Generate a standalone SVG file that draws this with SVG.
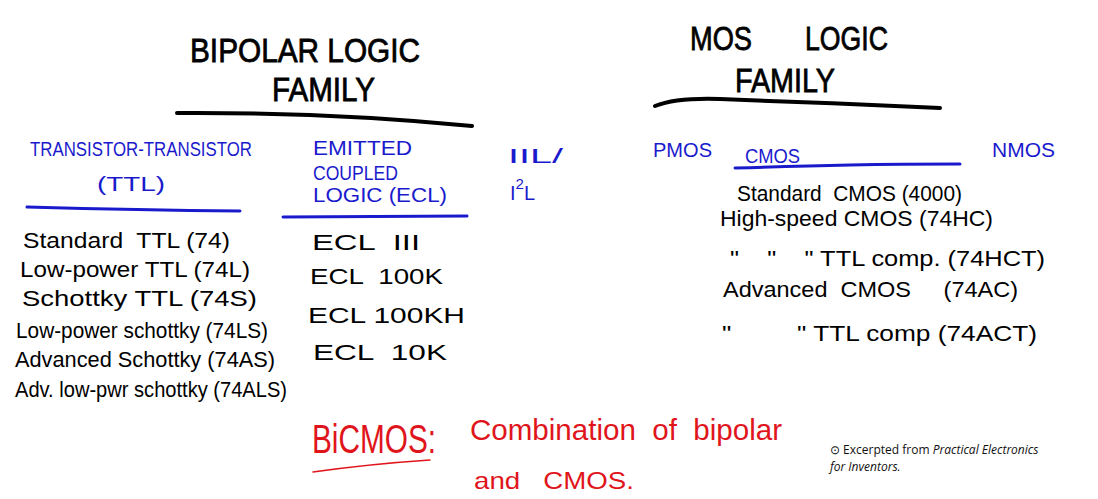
<svg xmlns="http://www.w3.org/2000/svg" width="1098" height="499" viewBox="0 0 1098 499">
<style>
.t{font-family:"Liberation Sans","DejaVu Sans",sans-serif;white-space:pre;}
.title{font-size:34px;fill:#000;stroke:#000;stroke-width:0.8px;}
.blue{fill:#1a1acd;font-size:20px;}
.blk{fill:#000;font-size:22px;}
.red{fill:#e0151b;}
.ln{fill:none;stroke-linecap:round;}
.note{font-family:"Open Sans","Noto Sans",sans-serif;font-size:12px;fill:#111;}
</style>
<rect width="1098" height="499" fill="#fff"/>
<g id="bipolar-title">
<text class="t title" x="190" y="62" textLength="230" lengthAdjust="spacingAndGlyphs">BIPOLAR LOGIC</text>
<text class="t title" x="272" y="101" font-size="32" textLength="103" lengthAdjust="spacingAndGlyphs">FAMILY</text>
</g>
<g id="mos-title">
<text class="t title" x="690" y="50" font-size="32" textLength="62" lengthAdjust="spacingAndGlyphs">MOS</text>
<text class="t title" x="805" y="50" font-size="32" textLength="83" lengthAdjust="spacingAndGlyphs">LOGIC</text>
<text class="t title" x="735" y="92" font-size="30" textLength="100" lengthAdjust="spacingAndGlyphs">FAMILY</text>
</g>
<g id="lines">
<path class="ln" d="M177,113 Q330,112 472,126" stroke="#000" stroke-width="4"/>
<path class="ln" d="M655,106 C670,100 690,98 720,99 S900,106 940,108" stroke="#000" stroke-width="4"/>
<path class="ln" d="M27,207 Q140,210 240,211" stroke="#1a1acd" stroke-width="3"/>
<path class="ln" d="M283,217 L467,216" stroke="#1a1acd" stroke-width="3"/>
<path class="ln" d="M735,168 Q800,166 850,165 T960,164" stroke="#1a1acd" stroke-width="3"/>
<path class="ln" d="M313,472 Q370,464 430,460" stroke="#e0151b" stroke-width="1.5"/>
</g>
<g id="ttl">
<text class="t blue" x="30" y="156" textLength="222" lengthAdjust="spacingAndGlyphs">TRANSISTOR-TRANSISTOR</text>
<text class="t blue" x="97" y="191" font-size="24" textLength="68" lengthAdjust="spacingAndGlyphs">(TTL)</text>
<text class="t blk" x="23" y="248" textLength="207" lengthAdjust="spacingAndGlyphs">Standard  TTL (74)</text>
<text class="t blk" x="20" y="277" textLength="230" lengthAdjust="spacingAndGlyphs">Low-power TTL (74L)</text>
<text class="t blk" x="22" y="306" textLength="235" lengthAdjust="spacingAndGlyphs">Schottky TTL (74S)</text>
<text class="t blk" x="16" y="338" textLength="252" lengthAdjust="spacingAndGlyphs">Low-power schottky (74LS)</text>
<text class="t blk" x="15" y="367" textLength="260" lengthAdjust="spacingAndGlyphs">Advanced Schottky (74AS)</text>
<text class="t blk" x="15" y="397" textLength="272" lengthAdjust="spacingAndGlyphs">Adv. low-pwr schottky (74ALS)</text>
</g>
<g id="ecl">
<text class="t blue" x="313" y="155" font-size="18" textLength="99" lengthAdjust="spacingAndGlyphs">EMITTED</text>
<text class="t blue" x="313" y="180" font-size="15" textLength="85" lengthAdjust="spacingAndGlyphs">COUPLED</text>
<text class="t blue" x="313" y="202" font-size="18" textLength="134" lengthAdjust="spacingAndGlyphs">LOGIC (ECL)</text>
<text class="t blk" x="312" y="250" font-size="26" textLength="108" lengthAdjust="spacingAndGlyphs">ECL  III</text>
<text class="t blk" x="310" y="284" font-size="27" textLength="133" lengthAdjust="spacingAndGlyphs">ECL  100K</text>
<text class="t blk" x="308" y="323" font-size="27" textLength="157" lengthAdjust="spacingAndGlyphs">ECL 100KH</text>
<text class="t blk" x="313" y="360" font-size="27" textLength="134" lengthAdjust="spacingAndGlyphs">ECL  10K</text>
</g>
<g id="iil">
<text class="t blue" x="508" y="163" font-size="26" textLength="55" lengthAdjust="spacingAndGlyphs">IIL/</text>
<text class="t blue" x="510" y="200" font-size="26">I<tspan font-size="15" dy="-11">2</tspan><tspan dy="11">L</tspan></text>
</g>
<g id="mos">
<text class="t blue" x="653" y="157" font-size="22" textLength="59" lengthAdjust="spacingAndGlyphs">PMOS</text>
<text class="t blue" x="745" y="163" font-size="24" textLength="55" lengthAdjust="spacingAndGlyphs">CMOS</text>
<text class="t blue" x="992" y="157" font-size="20" textLength="63" lengthAdjust="spacingAndGlyphs">NMOS</text>
<text class="t blk" x="737" y="201" font-size="20" textLength="225" lengthAdjust="spacingAndGlyphs">Standard  CMOS (4000)</text>
<text class="t blk" x="720" y="226" font-size="20" textLength="273" lengthAdjust="spacingAndGlyphs">High-speed CMOS (74HC)</text>
<text class="t blk" x="730" y="266" font-size="26" textLength="315" lengthAdjust="spacingAndGlyphs">"    "    " TTL comp. (74HCT)</text>
<text class="t blk" x="723" y="297" font-size="26" textLength="295" lengthAdjust="spacingAndGlyphs">Advanced  CMOS     (74AC)</text>
<text class="t blk" x="722" y="341" font-size="26" textLength="315" lengthAdjust="spacingAndGlyphs">"         " TTL comp (74ACT)</text>
</g>
<g id="bicmos">
<text class="t red" x="312" y="453" font-size="40" textLength="124" lengthAdjust="spacingAndGlyphs">BiCMOS:</text>
<text class="t red" x="470" y="440" font-size="30" textLength="312" lengthAdjust="spacingAndGlyphs">Combination  of  bipolar</text>
<text class="t red" x="474" y="489" font-size="24" textLength="160" lengthAdjust="spacingAndGlyphs">and   CMOS.</text>
</g>
<g id="note">
<text class="note" x="830" y="454">⊙  Excerpted from <tspan font-style="italic">Practical  Electronics</tspan></text>
<text class="note" x="830" y="471" font-style="italic">for Inventors.</text>
</g>
</svg>
